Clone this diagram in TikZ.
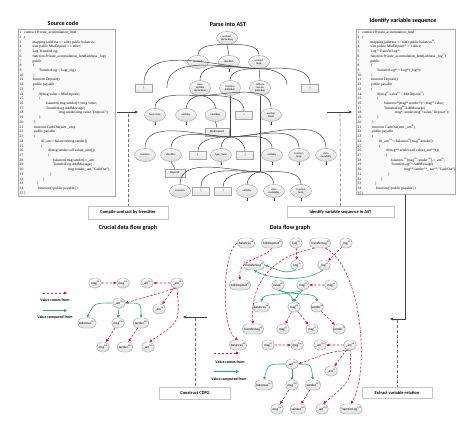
\documentclass[tikz,border=0pt]{standalone}
\usepackage{fontspec}
\setmainfont{Liberation Serif}
\newfontfamily\carl{Carlito}
\usetikzlibrary{shapes.geometric,shapes.misc,arrows.meta}
\definecolor{myred}{RGB}{225,25,45}
\definecolor{mygreen}{RGB}{40,175,110}
\newcommand\sv[1]{\raisebox{1.4pt}{\fontsize{2.2}{2.2}\selectfont #1}}
\newcommand\cl[3]{\makebox[4.5pt][l]{#1}\hspace*{#2pt}#3}
\newcommand\nv[2]{#1\raisebox{1.8pt}{\fontsize{2.2}{2.2}\selectfont #2}}
\begin{document}
\begin{tikzpicture}[x=1pt,y=-1pt,
  ttl/.style={font=\carl\bfseries\fontsize{6.1}{7}\selectfont, inner sep=0pt},
  cbox/.style={draw=gray!65, fill=gray!4, line width=0.5pt, inner sep=0pt},
  code/.style={font=\fontsize{3.6}{4.72}\selectfont, align=left, inner sep=0pt},
  astE/.style={ellipse, draw=gray!70, line width=0.45pt, top color=gray!4, bottom color=gray!28, minimum width=21pt, minimum height=13pt, inner sep=0pt, font=\carl\fontsize{2.6}{2.9}\selectfont, align=center, text=black},
  astR/.style={rectangle, draw=gray!70, line width=0.45pt, top color=gray!4, bottom color=gray!20, minimum width=17pt, minimum height=8pt, inner sep=0pt, font=\carl\fontsize{3}{3}\selectfont},
  astline/.style={draw=black!72, line width=0.5pt},
  dots/.style={font=\carl\fontsize{3}{3}\selectfont, inner sep=0.3pt},
  dfn/.style={rounded rectangle, draw=gray!70, line width=0.45pt, top color=white, bottom color=gray!26, minimum height=10pt, minimum width=15pt, inner xsep=1.2pt, inner ysep=0.5pt, font=\carl\fontsize{3.4}{3.4}\selectfont},
  rd/.style={draw=myred, line width=0.6pt, dash pattern=on 2.4pt off 1.6pt, -{Triangle[length=2.8pt,width=2.8pt]}},
  gr/.style={draw=mygreen, line width=0.6pt, -{Triangle[length=2.8pt,width=2.8pt]}},
  flow/.style={draw=black!75, line width=0.6pt, -{Stealth[length=3.5pt,width=3pt]}},
  vdash/.style={draw=black!55, line width=0.6pt, dash pattern=on 3pt off 2pt},
  lbox/.style={draw=gray!45, fill=white, line width=0.4pt, font=\carl\bfseries\fontsize{4.5}{5}\selectfont, inner sep=0pt},
  leg/.style={font=\carl\bfseries\fontsize{3.9}{4}\selectfont, inner sep=0pt},
  fl/.style={out=178,in=90,looseness=0.9},
  fr/.style={out=2,in=90,looseness=0.9}
]
\useasboundingbox (0,0) rectangle (474,428);
\fill[white] (0,0) rectangle (474,428);

% ---------- titles
\node[ttl] (t1) at (63,23) {Source code};
\node[ttl] (t2) at (228,24) {Parse into AST};
\node[ttl] (t3) at (403,21) {Identify variable sequence};
\node[ttl] (t4) at (128,228) {Crucial data flow graph};
\node[ttl] (t5) at (290,228) {Data flow graph};

% ---------- source code
\node[cbox, minimum width=97pt, minimum height=167pt, anchor=north west] (src) at (18,29) {};
\node[code, anchor=north west] (srctxt) at (19.5,31) {%
\cl{1}{0}{contract Private\_accumulation\_fund}\\
\cl{2}{0}{\{}\\
\cl{3}{8.5}{mapping (address => uint) public balances;}\\
\cl{4}{8.5}{uint public MinDeposit = 1 ether;}\\
\cl{5}{8.5}{Log TransferLog;}\\
\cl{6}{8.5}{function Private\_accumulation\_fund(address \_log)}\\
\cl{7}{8.5}{public}\\
\cl{8}{9}{\{}\\
\cl{9}{15}{TransferLog = Log(\_log);}\\
\cl{10}{9}{\}}\\
\cl{11}{9}{function Deposit()}\\
\cl{12}{9}{public payable}\\
\cl{13}{9}{\{}\\
\cl{14}{15}{if(msg.value > MinDeposit)}\\
\cl{15}{15}{\{}\\
\cl{16}{22}{balances[msg.sender]+=msg.value;}\\
\cl{17}{22}{TransferLog.AddMessage(}\\
\cl{18}{35}{msg.sender,msg.value,"Deposit");}\\
\cl{19}{15}{\}}\\
\cl{20}{10}{\}}\\
\cl{21}{10}{function CashOut(uint \_am)}\\
\cl{22}{10}{public payable}\\
\cl{23}{10}{\{}\\
\cl{24}{17}{if(\_am<=balances[msg.sender])}\\
\cl{25}{17}{\{}\\
\cl{26}{24}{if(msg.sender.call.value(\_am)())}\\
\cl{27}{24}{\{}\\
\cl{28}{29}{balances[msg.sender]-=\_am;}\\
\cl{29}{29}{TransferLog.AddMessage(}\\
\cl{30}{44}{msg.sender,\_am,"CashOut");}\\
\cl{31}{26}{\}}\\
\cl{32}{19}{\}}\\
\cl{33}{13}{\}}\\
\cl{34}{14}{function() public payable\{\}}\\
\cl{35}{0}{\}}};

% ---------- identified code
\node[cbox, minimum width=99pt, minimum height=165pt, anchor=north west] (idsrc) at (356,29) {};
\node[code, anchor=north west] (idtxt) at (357.5,31) {%
\cl{1}{0}{contract Private\_accumulation\_fund}\\
\cl{2}{0}{\{}\\
\cl{3}{8.5}{mapping (address => uint) public balances\sv{48};}\\
\cl{4}{8.5}{uint public MinDeposit\sv{21} = 1 ether;}\\
\cl{5}{8.5}{Log\sv{33} TransferLog\sv{30};}\\
\cl{6}{8.5}{function Private\_accumulation\_fund(address \_log\sv{27})}\\
\cl{7}{8.5}{public}\\
\cl{8}{9}{\{}\\
\cl{9}{15}{TransferLog\sv{41} = Log\sv{44}(\_log\sv{42});}\\
\cl{10}{9}{\}}\\
\cl{11}{9}{function Deposit()}\\
\cl{12}{9}{public payable}\\
\cl{13}{9}{\{}\\
\cl{14}{15}{if(msg\sv{62}.value\sv{63} > MinDeposit\sv{53})}\\
\cl{15}{15}{\{}\\
\cl{16}{22}{balances\sv{86}[msg\sv{88}.sender\sv{90}]+=msg\sv{55}.value;}\\
\cl{17}{22}{TransferLog\sv{96}.AddMessage(}\\
\cl{18}{33}{msg\sv{93}.sender,msg\sv{73}.value,"Deposit");}\\
\cl{19}{15}{\}}\\
\cl{20}{10}{\}}\\
\cl{21}{10}{function CashOut(uint \_am\sv{48})}\\
\cl{22}{10}{public payable}\\
\cl{23}{10}{\{}\\
\cl{24}{17}{if(\_am\sv{116}<=balances\sv{86}[msg\sv{40}.sender])}\\
\cl{25}{17}{\{}\\
\cl{26}{24}{if(msg\sv{146}.sender.call.value(\_am\sv{104})())}\\
\cl{27}{24}{\{}\\
\cl{28}{29}{balances\sv{127}[msg\sv{104}.sender\sv{125}]-=\_am\sv{91};}\\
\cl{29}{29}{TransferLog\sv{176}.AddMessage(}\\
\cl{30}{42}{msg\sv{148}.sender\sv{136},\_am\sv{120},"CashOut");}\\
\cl{31}{26}{\}}\\
\cl{32}{19}{\}}\\
\cl{33}{13}{\}}\\
\cl{34}{14}{function() public payable\{\}}\\
\cl{35}{0}{\}}};

% ---------- AST nodes
\node[astE] (a0) at (227,38) {contract\\declaration};
\node[astE] (a1) at (198,62) {contract};
\node[astE] (a2) at (229,62) {identifier};
\node[astE] (a3) at (259,62) {contract\\body};
\node[astR] (b0) at (144,88) {[};
\node[dots] (b1) at (167,88) {...};
\node[astE, minimum height=15pt] (b2) at (200,88) {state\\variable\\declaration};
\node[astE, minimum height=15pt] (b3) at (230,88) {function\\definition};
\node[astE, minimum height=15pt] (b4) at (260,88) {fallback\\receive\\definition};
\node[dots] (b5) at (287,85) {...};
\node[astR] (b6) at (310,88) {]};
\node[astE] (c0) at (155,115) {type name};
\node[astE] (c1) at (186,115) {visibility};
\node[astE] (c2) at (215.5,115) {identifier};
\node[astR] (c3) at (244,115) {=};
\node[astE] (c4) at (271,115) {number\\literal};
\node[astR, minimum width=24pt] (c2l) at (217,132) {MinDeposit};
\node[astE] (d0) at (145,155) {function};
\node[astE] (d1) at (171,155) {identifier};
\node[astR] (d2) at (198,155) {[};
\node[astE] (d3) at (221,155) {type\_name};
\node[astR] (d4) at (245,155) {]};
\node[astE] (d5) at (272,155) {visibility};
\node[astE] (d6) at (299,155) {function\\body};
\node[astE] (d7) at (326,155) {state\\mutability};
\node[astR, minimum width=20pt] (d1l) at (175,173) {Deposit};
\node[astE] (e0) at (180,191) {function};
\node[astR] (e1) at (201,191) {[};
\node[astR] (e2) at (223,191) {]};
\node[astE] (e3) at (247,191) {visibility};
\node[astE] (e4) at (274,191) {state\\mutability};
\node[astE] (e5) at (301,191) {function\\body};

% ---------- AST edges
\draw[astline] (a0.south) to[fl] (a1.north);
\draw[astline] (a0.south) -- (a2.north);
\draw[astline] (a0.south) to[fr] (a3.north);
\foreach \c in {b0,b1,b2,b3} \draw[astline] (a3.south) to[fl] (\c.north);
\draw[astline] (a3.south) -- (b4.north);
\foreach \c in {b5,b6} \draw[astline] (a3.south) to[fr] (\c.north);
\foreach \c in {c0,c1} \draw[astline] (b2.south) to[fl] (\c.north);
\foreach \c in {c2,c3,c4} \draw[astline] (b2.south) to[fr] (\c.north);
\coordinate (f5) at (230,137);
\coordinate (f6) at (260,172);
\draw[astline] (b3.south) -- (f5);
\draw[astline] (b4.south) -- (f6);
\foreach \c in {d0,d1,d2,d3} \draw[astline] (f5) to[fl] (\c.north);
\foreach \c in {d4,d5,d6,d7} \draw[astline] (f5) to[fr] (\c.north);
\foreach \c in {e0,e1,e2,e3} \draw[astline] (f6) to[fl] (\c.north);
\foreach \c in {e4,e5} \draw[astline] (f6) to[fr] (\c.north);
\draw[astline] (c2.south) -- (c2l.north);
\draw[astline] (d1.south) -- (d1l.north);
\foreach \c in {a2,c0,c1,c4,d3,d5,d6,d7,e3,e4,e5}
  \draw[astline] (\c.south) -- ++(0,3) node[dots, anchor=north] (\c l) {...};

% ---------- panel flow arrows and labels
\coordinate (p1) at (117,112); \coordinate (p2) at (138,112); \coordinate (p3) at (128,113.5);
\coordinate (q1) at (327,112); \coordinate (q2) at (352,112); \coordinate (q3) at (340,113.5);
\node[lbox, minimum width=80pt, minimum height=12.5pt] (lb1) at (128,212.5) {Compile contract by treesitter};
\node[lbox, minimum width=107pt, minimum height=11pt] (lb2) at (340.5,212) {Identify variable sequence in AST};
\node[lbox, minimum width=71pt, minimum height=12pt] (lb3) at (195,393) {Construct CDFG};
\node[lbox, minimum width=70pt, minimum height=11pt] (lb4) at (397,392.5) {Extract variable relation};
\draw[flow] (p1) -- (p2);
\draw[vdash] (p3) -- (lb1.north);
\draw[flow] (q1) -- (q2);
\draw[vdash] (q3) -- (lb2.north);
\coordinate (r2) at (390,319); \coordinate (r3) at (397,319.5);
\draw[flow] (idsrc.south) |- (r2);
\draw[vdash] (r3) -- (lb4.north);
\coordinate (l1) at (207,317); \coordinate (l2) at (183,317); \coordinate (l3) at (195,317.5);
\draw[flow] (l1) -- (l2);
\draw[vdash] (l3) -- (lb3.north);

% ---------- crucial data flow graph
\node[dfn] (kA) at (95,283) {\nv{msg}{40}};
\node[dfn] (kB) at (123,283) {\nv{msg}{146}};
\node[dfn] (kC) at (147,283) {\nv{\_am}{116}};
\node[dfn] (kD) at (177,283) {\nv{\_am}{48}};
\node[dfn] (kE) at (119,303) {\nv{\_am}{104}};
\node[dfn] (kF) at (159,309) {\nv{\_am}{91}};
\node[dfn] (kG) at (87,323) {\nv{balances}{127}};
\node[dfn] (kH) at (118,323) {\nv{msg}{104}};
\node[dfn] (kI) at (141,323) {\nv{sender}{125}};
\node[dfn] (kJ) at (103,347) {\nv{msg}{148}};
\node[dfn] (kK) at (125,347) {\nv{sender}{136}};
\node[dfn] (kL) at (148,347) {\nv{\_am}{120}};
\draw[rd] (kA) -- (kB);
\draw[rd] (kD) -- (kC);
\draw[rd] (kD.south west) .. controls (160,293) .. (kE.east);
\draw[rd] (kD) -- (kF);
\draw[rd] (kD.south) .. controls (180,322) .. (kL.north east);
\draw[gr] (kE.west) .. controls (94,303) .. (kG.north);
\draw[gr] (kE.south) -- (kH.north);
\draw[gr] (kE.east) .. controls (141,303) .. (kI.north);
\draw[rd] (kH) -- (kJ);
\draw[rd] (kI) -- (kK);
% legend
\coordinate (lg1) at (43,293); \coordinate (lg2) at (67,293);
\coordinate (lg3) at (43,310.5); \coordinate (lg4) at (67,310.5);
\draw[rd] (lg1) -- (lg2);
\node[leg] (lgt1) at (55,300.5) {Value comes from};
\draw[gr] (lg3) -- (lg4);
\node[leg] (lgt2) at (55,317.5) {Value computed from};

% ---------- data flow graph
\node[dfn] (g1) at (246,243) {\nv{balances}{48}};
\node[dfn] (g2) at (272,243) {\nv{MinDeposit}{21}};
\node[dfn] (g3) at (296,243) {\nv{Log}{33}};
\node[dfn] (g4) at (320,243) {\nv{TransferLog}{30}};
\node[dfn] (g5) at (346,243) {\nv{\_log}{27}};
\node[dfn] (g6) at (254,265) {\nv{TransferLog}{41}};
\node[dfn] (g7) at (297,265) {\nv{Log}{44}};
\node[dfn] (g8) at (324,265) {\nv{\_log}{42}};
\node[dfn] (g9) at (240,285) {\nv{MinDeposit}{53}};
\node[dfn] (g10) at (278,285) {\nv{value}{63}};
\node[dfn] (g11) at (303,285) {\nv{msg}{62}};
\node[dfn] (g12) at (331,285) {\nv{msg}{55}};
\node[dfn] (g13) at (261,307) {\nv{balances}{86}};
\node[dfn] (g14) at (294,307) {\nv{msg}{88}};
\node[dfn] (g15) at (317,307) {\nv{sender}{90}};
\node[dfn] (g16) at (253,329) {\nv{TransferLog}{96}};
\node[dfn] (g17) at (283,329) {\nv{msg}{93}};
\node[dfn] (g18) at (312,329) {\nv{msg}{73}};
\node[dfn] (g19) at (339,329) {\nv{sender}{91}};
\node[dfn] (g20) at (238,345) {\nv{balances}{86}};
\node[dfn] (g21) at (268,345) {\nv{msg}{40}};
\node[dfn] (g22) at (297,345) {\nv{msg}{146}};
\node[dfn] (g23) at (320,345) {\nv{\_am}{116}};
\node[dfn] (g24) at (350,345) {\nv{\_am}{48}};
\node[dfn] (g25) at (292,364) {\nv{\_am}{104}};
\node[dfn] (g26) at (331,371) {\nv{\_am}{91}};
\node[dfn] (g27) at (264,385) {\nv{balances}{127}};
\node[dfn] (g28) at (292,385) {\nv{msg}{104}};
\node[dfn] (g29) at (313,385) {\nv{sender}{125}};
\node[dfn] (g30) at (277,409) {\nv{msg}{148}};
\node[dfn] (g31) at (298,409) {\nv{sender}{136}};
\node[dfn] (g32) at (322,409) {\nv{\_am}{120}};
\node[dfn] (g33) at (351,409) {\nv{TransferLog}{176}};
% red edges
\draw[rd] (g1.west) .. controls (222,252) and (221,330) .. (g20.north);
\draw[rd] (g2.south) .. controls (262,260) and (238,258) .. (g9.north);
\draw[rd] (g3) -- (g7);
\draw[rd] (g5) -- (g8);
\draw[rd] (g4.south west) .. controls (280,255) and (250,275) .. (g16.north);
\draw[rd] (g4.south east) .. controls (362,268) and (370,372) .. (g33.north);
\draw[rd] (g12) -- (g11);
\draw[rd] (g14) -- (g17);
\draw[rd] (g14) -- (g18);
\draw[rd] (g15) -- (g19);
\draw[rd] (g21) -- (g22);
\draw[rd] (g24) -- (g23);
\draw[rd] (g24.south west) .. controls (330,352) .. (g25.east);
\draw[rd] (g24) -- (g26);
\draw[rd] (g24.south) .. controls (352,380) .. (g32.north east);
\draw[rd] (g28) -- (g30);
\draw[rd] (g29) -- (g31);
% green edges
\draw[gr] (g7.south west) .. controls (285,273) .. (g6.east);
\draw[gr] (g8.south west) .. controls (305,283) and (270,279) .. (g6.south);
\draw[gr] (g10.south) .. controls (296,296) and (316,292) .. (g15.north);
\draw[gr] (g10.south east) .. controls (290,294) .. (g14.north);
\draw[gr] (g11.south) .. controls (286,296) and (264,292) .. (g13.north);
\draw[gr] (g11.south) .. controls (298,295) .. (g14.north);
\draw[gr] (g25.west) .. controls (268,364) .. (g27.north);
\draw[gr] (g25.south) -- (g28.north);
\draw[gr] (g25.east) .. controls (311,364) .. (g29.north);
% legend
\coordinate (lh1) at (214,353); \coordinate (lh2) at (239,353);
\coordinate (lh3) at (214,371.5); \coordinate (lh4) at (239,371.5);
\draw[rd] (lh1) -- (lh2);
\node[leg] (lht1) at (230,362) {Value comes from};
\draw[gr] (lh3) -- (lh4);
\node[leg] (lht2) at (229,379.5) {Value computed from};
\end{tikzpicture}
\end{document}
